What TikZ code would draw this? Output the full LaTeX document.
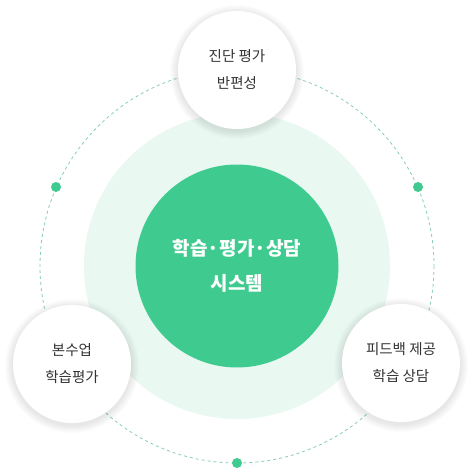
\documentclass[tikz,border=0pt]{standalone}
\usepackage{fontspec}
\setmainfont{Noto Sans CJK KR}
\definecolor{maingreen}{HTML}{3FCB8F}
\definecolor{palegreen}{HTML}{EAF8F2}
\definecolor{dashcol}{HTML}{86CDBE}
\definecolor{txtgray}{HTML}{333333}
\tikzset{
  sat/.style={circle, fill=white, minimum size=118pt, inner sep=0pt, text=txtgray,
    font=\fontsize{14.5pt}{27pt}\selectfont, align=center},
  dotnode/.style={circle, fill=maingreen, minimum size=10pt, inner sep=0pt},
}
\newcommand{\softshadow}[3]{%
  \foreach \k in {1,...,8}{\fill[black, opacity=0.012] (#1,#2+2) circle ({#3+\k*1.0});}}
\begin{document}
\begin{tikzpicture}[x=1pt, y=-1pt]
\useasboundingbox[fill=white] (0,0) rectangle (474,469);
\coordinate (c) at (237,266);
% dashed orbit
\draw[dashcol, line width=0.8pt, dash pattern=on 3pt off 3pt] (c) circle (197);
% dots
\node[dotnode] (d1) at (56,187) {};
\node[dotnode] (d2) at (418,187) {};
\node[dotnode] (d3) at (237,463) {};
% pale ring
\fill[palegreen] (c) circle (153);
% shadows
\softshadow{237}{70}{59}
\softshadow{72}{364}{59}
\softshadow{401}{363}{59}
% satellite nodes
\node[sat] (top) at (237,70) {진단 평가\\반편성};
\node[sat] (left) at (72,364) {본수업\\학습평가};
\node[sat] (right) at (401,363) {피드백 제공\\학습 상담};
% center
\node[circle, fill=maingreen, minimum size=203pt, inner sep=0pt, text=white,
  font=\fontsize{19pt}{35pt}\selectfont\bfseries, align=center] (core) at (c)
  {학습·평가·상담\\시스템};
\end{tikzpicture}
\end{document}
